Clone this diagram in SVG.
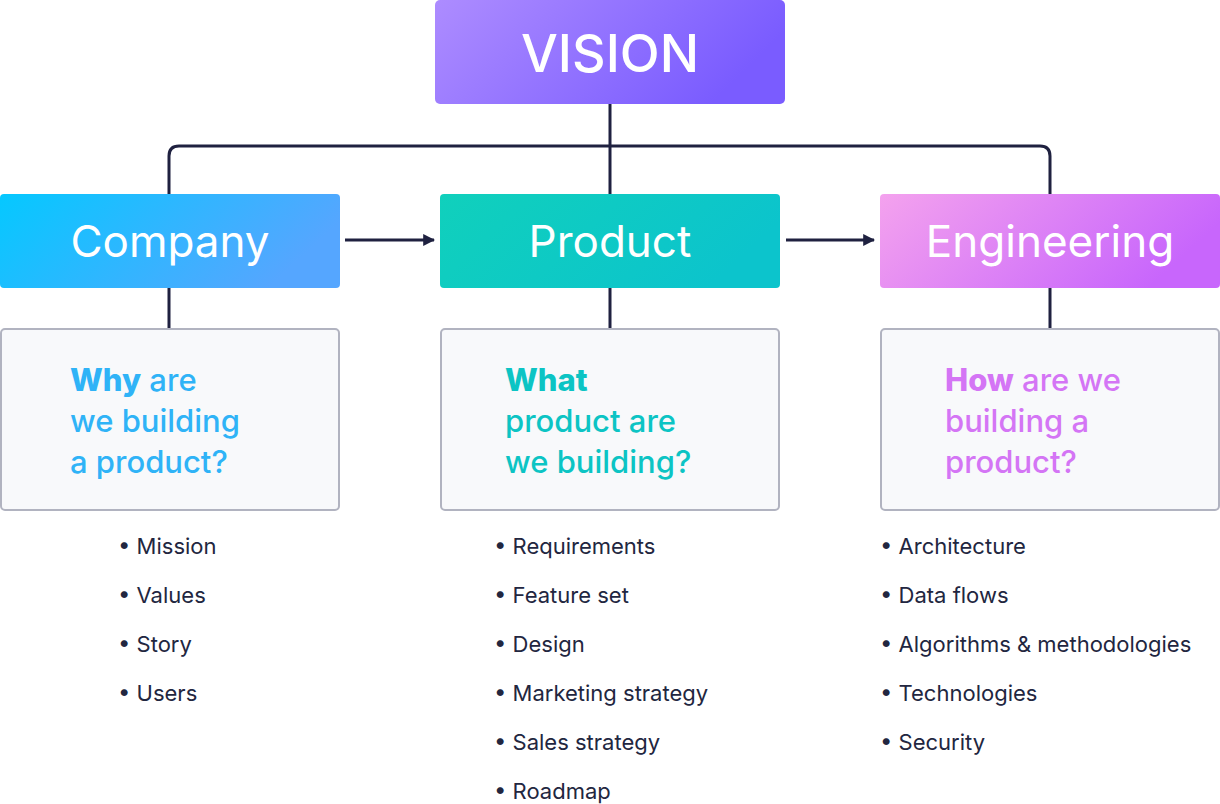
<svg xmlns="http://www.w3.org/2000/svg" width="1220" height="804" viewBox="0 0 1220 804">
<defs>
<linearGradient id="gv" x1="0" y1="0" x2="1" y2="0.3"><stop offset="0" stop-color="#ad8cff"/><stop offset="1" stop-color="#7a5cff"/></linearGradient>
<linearGradient id="gc" x1="0" y1="0" x2="1" y2="0.3"><stop offset="0" stop-color="#05c8ff"/><stop offset="1" stop-color="#55a6ff"/></linearGradient>
<linearGradient id="gp" x1="0" y1="0" x2="1" y2="0.3"><stop offset="0" stop-color="#10d0bc"/><stop offset="1" stop-color="#0cc4cc"/></linearGradient>
<linearGradient id="ge" x1="0" y1="0" x2="1" y2="0.3"><stop offset="0" stop-color="#f4a2ee"/><stop offset="1" stop-color="#c866fc"/></linearGradient>
<marker id="ar" viewBox="0 0 10 10" refX="9" refY="5" markerWidth="4" markerHeight="4" orient="auto"><path d="M0,0 L10,5 L0,10 z" fill="#1f2140"/></marker>
<style>
.ln{stroke:#1f2140;stroke-width:3;fill:none}
.hd{font-family:Inter,"Liberation Sans",sans-serif;fill:#fff;text-anchor:middle}
.qb{fill:#f8f9fb;stroke:#b1b3c0;stroke-width:2}
.q{font-family:Inter,"Liberation Sans",sans-serif;font-size:31px;font-weight:500}
.li{font-family:Inter,"Liberation Sans",sans-serif;font-size:22px;fill:#222640}
</style>
</defs>
<g id="connectors">
<path class="ln" d="M610,104 V194"/>
<path class="ln" d="M169,194 V156 Q169,146 179,146 H1040 Q1050,146 1050,156 V194"/>
<path class="ln" d="M169,288 V328 M610,288 V328 M1050,288 V328"/>
<path class="ln" d="M345,240 H434" marker-end="url(#ar)"/>
<path class="ln" d="M786,240 H874" marker-end="url(#ar)"/>
</g>
<g id="vision"><rect x="435" y="0" width="350" height="104" rx="5" fill="url(#gv)"/><text class="hd" x="610" y="72" font-size="52" font-weight="500">VISION</text></g>
<g id="company"><rect x="0" y="194" width="340" height="94" rx="4" fill="url(#gc)"/><text class="hd" x="170" y="257" font-size="44">Company</text></g>
<g id="product"><rect x="440" y="194" width="340" height="94" rx="4" fill="url(#gp)"/><text class="hd" x="610" y="257" font-size="44">Product</text></g>
<g id="engineering"><rect x="880" y="194" width="340" height="94" rx="4" fill="url(#ge)"/><text class="hd" x="1050" y="257" font-size="44">Engineering</text></g>
<g id="q-company"><rect class="qb" x="1" y="329" width="338" height="181" rx="4"/>
<text class="q" fill="#2fb3f7"><tspan x="70" y="391"><tspan font-weight="800">Why</tspan> are</tspan><tspan x="70" y="432">we building</tspan><tspan x="70" y="473">a product?</tspan></text></g>
<g id="q-product"><rect class="qb" x="441" y="329" width="338" height="181" rx="4"/>
<text class="q" fill="#0cc4c4"><tspan x="505" y="391" font-weight="800">What</tspan><tspan x="505" y="432">product are</tspan><tspan x="505" y="473">we building?</tspan></text></g>
<g id="q-engineering"><rect class="qb" x="881" y="329" width="338" height="181" rx="4"/>
<text class="q" fill="#d475f5"><tspan x="945" y="391"><tspan font-weight="800">How</tspan> are we</tspan><tspan x="945" y="432">building a</tspan><tspan x="945" y="473">product?</tspan></text></g>
<g id="list-company" class="li">
<text class="li" x="118" y="554">• Mission</text><text class="li" x="118" y="603">• Values</text><text class="li" x="118" y="652">• Story</text><text class="li" x="118" y="701">• Users</text>
</g>
<g id="list-product">
<text class="li" x="494" y="554">• Requirements</text><text class="li" x="494" y="603">• Feature set</text><text class="li" x="494" y="652">• Design</text><text class="li" x="494" y="701">• Marketing strategy</text><text class="li" x="494" y="750">• Sales strategy</text><text class="li" x="494" y="799">• Roadmap</text>
</g>
<g id="list-engineering">
<text class="li" x="880" y="554">• Architecture</text><text class="li" x="880" y="603">• Data flows</text><text class="li" x="880" y="652">• Algorithms &amp; methodologies</text><text class="li" x="880" y="701">• Technologies</text><text class="li" x="880" y="750">• Security</text>
</g>
</svg>
